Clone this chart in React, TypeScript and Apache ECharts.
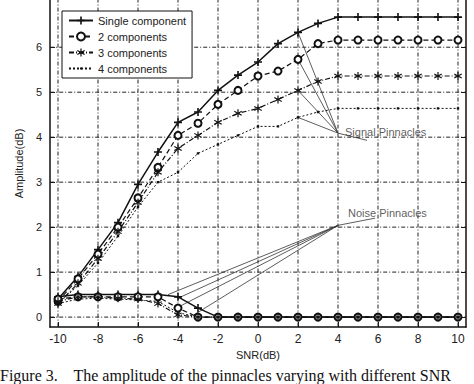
import React, { useEffect, useRef } from "react";
import * as echarts from "echarts";

const snr = [-10, -9, -8, -7, -6, -5, -4, -3, -2, -1, 0, 1, 2, 3, 4, 5, 6, 7, 8, 9, 10];
const xTicks = [-10, -8, -6, -4, -2, 0, 2, 4, 6, 8, 10];
const yTicks = [0, 1, 2, 3, 4, 5, 6];
const seriesNames = ["Single component", "2 components", "3 components", "4 components"];

const signal1 = [0.4, 0.9, 1.5, 2.1, 2.95, 3.67, 4.33, 4.56, 5.04, 5.38, 5.67, 6.08, 6.33, 6.53, 6.67, 6.67, 6.67, 6.67, 6.67, 6.67, 6.67];
const signal2 = [0.35, 0.85, 1.4, 2.0, 2.65, 3.33, 4.04, 4.31, 4.73, 5.04, 5.36, 5.47, 5.73, 6.08, 6.16, 6.16, 6.16, 6.16, 6.16, 6.16, 6.16];
const signal3 = [0.3, 0.75, 1.3, 1.9, 2.55, 3.22, 3.75, 4.04, 4.33, 4.53, 4.64, 4.84, 5.04, 5.24, 5.36, 5.36, 5.36, 5.36, 5.36, 5.36, 5.36];
const signal4 = [0.3, 0.7, 1.2, 1.8, 2.45, 3.0, 3.22, 3.64, 3.84, 4.04, 4.24, 4.24, 4.44, 4.56, 4.64, 4.64, 4.64, 4.64, 4.64, 4.64, 4.64];

const noise1 = [0.45, 0.5, 0.5, 0.5, 0.5, 0.5, 0.45, 0.2, 0, 0, 0, 0, 0, 0, 0, 0, 0, 0, 0, 0, 0];
const noise2 = [0.4, 0.45, 0.45, 0.45, 0.45, 0.45, 0.2, 0, 0, 0, 0, 0, 0, 0, 0, 0, 0, 0, 0, 0, 0];
const noise3 = [0.35, 0.45, 0.45, 0.42, 0.4, 0.3, 0.05, 0, 0, 0, 0, 0, 0, 0, 0, 0, 0, 0, 0, 0, 0];
const noise4 = [0.3, 0.4, 0.42, 0.4, 0.38, 0.35, 0.1, 0, 0, 0, 0, 0, 0, 0, 0, 0, 0, 0, 0, 0, 0];

// annotation pointers (data coordinates)
const signalHub = [4, 4.09];
const signalTargets = [[2, 6.33], [2, 5.73], [2, 5.04], [2, 4.44]];
const signalUnder = [5.45, 3.93];
const noiseHub = [4, 2.04];
const noiseTargets = [[-4.5, 0.5], [-4, 0.42], [-4, 0.22], [-3.2, 0.05]];
const noiseUnder = [5.85, 2.2];

const X_MIN = -10.4;
const X_MAX = 10.4;
const Y_MIN = -0.22;
const Y_MAX = 7.05;

const plusPath = "path://M4,0h2v4h4v2h-4v4h-2v-4h-4v-2h4z";
const starPath = "path://M4.3,0h1.4v3.8l3.3,-1.9l0.7,1.2l-3.3,1.9l3.3,1.9l-0.7,1.2l-3.3,-1.9v3.8h-1.4v-3.8l-3.3,1.9l-0.7,-1.2l3.3,-1.9l-3.3,-1.9l0.7,-1.2l3.3,1.9z";
const dotPath = "path://M0,0L0.01,0L0,0.01zM10,10L9.99,10L10,9.99zM3.8,3.8h2.4v2.4h-2.4z";

const styles = [
  { symbol: plusPath, symbolSize: 8, lineStyle: { type: "solid", width: 1.5 } },
  { symbol: "emptyCircle", symbolSize: 7, lineStyle: { type: [5, 3], width: 1.2 } },
  { symbol: starPath, symbolSize: 8, lineStyle: { type: [5, 2, 1, 2], width: 1.2 } },
  { symbol: dotPath, symbolSize: 10, lineStyle: { type: [2, 2], width: 1 } },
];

const pair = (xs: number[], ys: number[]) => xs.map((x, i) => [x, ys[i]]);

export default function App() {
  const ref = useRef<HTMLDivElement>(null);
  useEffect(() => {
    if (!ref.current) return;
    const chart = echarts.init(ref.current, null, { renderer: "svg" });
    const signals = [signal1, signal2, signal3, signal4];
    const noises = [noise1, noise2, noise3, noise4];
    const mkSeries = (name: string, data: any[], st: any, extra: any = {}) => ({
      type: "line",
      name,
      data,
      symbol: st.symbol,
      symbolSize: st.symbolSize,
      showAllSymbol: true,
      lineStyle: { color: "#111", ...st.lineStyle },
      itemStyle: { color: "#111", borderColor: "#111", borderWidth: st.symbol === "emptyCircle" ? 1.3 : 0 },
      z: 3,
      ...extra,
    });
    const series: any[] = [];
    const plain = (name: string, data: any[], lineStyle: any) => ({
      type: "line",
      name,
      data,
      symbol: "none",
      silent: true,
      clip: false,
      z: 1,
      lineStyle: { ...lineStyle },
    });
    const gridStyle = { type: [4, 2, 1, 2], color: "#222", width: 1 };
    const eps = 0.0005;
    xTicks.forEach((v) => series.push(plain("gx", [[v, Y_MIN + 0.01], [v + eps, Y_MAX]], gridStyle)));
    yTicks.forEach((v) => series.push(plain("gy", [[X_MIN + 0.01, v], [X_MAX - 0.01, v + eps]], gridStyle)));
    const annot = { type: "solid", width: 0.8, color: "#333" };
    signalTargets.forEach((t) => series.push(plain("sa", [signalHub, t], annot)));
    series.push(plain("sa", [signalHub, signalUnder], annot));
    noiseTargets.forEach((t) => series.push(plain("na", [noiseHub, t], annot)));
    series.push(plain("na", [noiseHub, noiseUnder], annot));

    signals.forEach((s, i) => series.push(mkSeries(seriesNames[i], pair(snr, s), styles[i])));
    noises.forEach((s, i) => series.push(mkSeries(seriesNames[i], pair(snr, s), styles[i])));
    series.push({
      type: "scatter",
      name: "labels",
      silent: true,
      symbolSize: 0,
      data: [
        { value: [4.35, 4.12], label: { formatter: "Signal Pinnacles" } },
        { value: [4.5, 2.32], label: { formatter: "Noise Pinnacles" } },
      ],
      label: {
        show: true,
        position: "right",
        distance: 0,
        color: "#333",
        fontSize: 11,
        fontFamily: "Liberation Sans",
      },
    });

    const axisLineStyle = { show: true, lineStyle: { color: "#111", width: 1.5 } };
    chart.setOption({
      animation: false,
      backgroundColor: "#fff",
      grid: { left: 50, right: 8, top: 0, bottom: 57 },
      legend: {
        data: seriesNames,
        orient: "vertical",
        left: 62,
        top: 11,
        itemWidth: 24,
        itemHeight: 10,
        itemGap: 5,
        padding: [4, 6, 4, 6],
        borderColor: "#111",
        borderWidth: 1,
        backgroundColor: "#fff",
        textStyle: { fontSize: 11, color: "#222", fontFamily: "Liberation Sans" },
        inactiveColor: "#111",
      },
      xAxis: {
        type: "value",
        min: X_MIN,
        max: X_MAX,
        name: "SNR(dB)",
        nameLocation: "middle",
        nameGap: 22,
        nameTextStyle: { fontSize: 11, color: "#222", fontFamily: "Liberation Sans" },
        axisLine: { ...axisLineStyle, onZero: false },
        splitLine: { show: false },
        axisTick: { show: true, inside: true, length: 5, lineStyle: { color: "#111" }, customValues: xTicks },
        axisLabel: { fontSize: 12, color: "#222", fontFamily: "Liberation Sans", margin: 6, customValues: xTicks },
      },
      yAxis: [
        {
          type: "value",
          min: Y_MIN,
          max: Y_MAX,
          name: "Amplitude(dB)",
          nameLocation: "middle",
          nameGap: 18,
          nameTextStyle: { fontSize: 11, color: "#222", fontFamily: "Liberation Sans" },
          axisLine: { ...axisLineStyle, onZero: false },
          splitLine: { show: false },
          axisTick: { show: true, inside: true, length: 5, lineStyle: { color: "#111" }, customValues: yTicks },
          axisLabel: { fontSize: 11, color: "#222", fontFamily: "Liberation Sans", margin: 8, customValues: yTicks },
        },
        {
          type: "value",
          position: "right",
          min: Y_MIN,
          max: Y_MAX,
          axisLine: { ...axisLineStyle, onZero: false },
          splitLine: { show: false },
          axisTick: { show: true, inside: true, length: 5, lineStyle: { color: "#111" }, customValues: yTicks },
          axisLabel: { show: false },
        },
      ],
      series,
      graphic: [
        {
          type: "text",
          left: 0,
          top: 367,
          style: {
            text: "Figure 3.    The amplitude of the pinnacles varying with different SNR",
            fontSize: 16,
            fontFamily: "Liberation Serif",
            fill: "#111",
          },
        },
      ],
    });
    return () => chart.dispose();
  }, []);
  return <div ref={ref} style={{ width: 474, height: 384, position: "fixed", left: 0, top: 0 }} />;
}
